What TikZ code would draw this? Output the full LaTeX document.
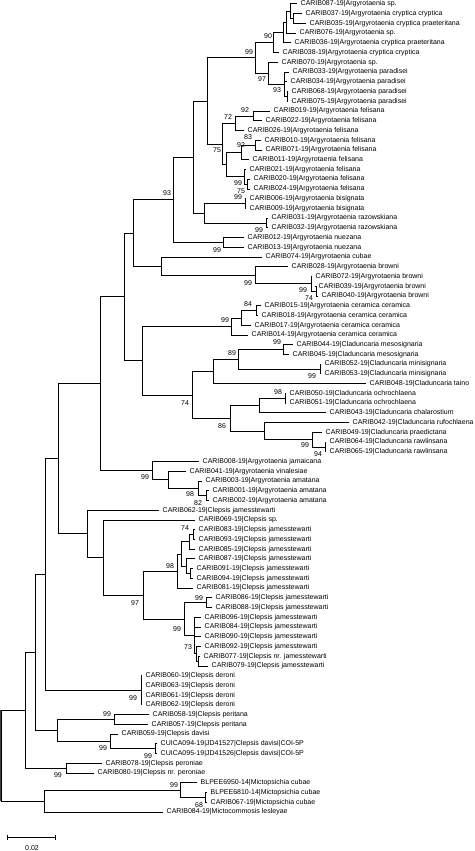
\documentclass[tikz,border=0pt]{standalone}
\usepackage{fontspec}
\setmainfont{Liberation Sans}

\tikzset{
  br/.style={line width=1pt},
  rt/.style={line width=1.6pt, black!75},
  lf/.style={anchor=west, inner sep=0pt, inner xsep=3.5pt, font=\fontsize{7}{8}\selectfont},
  bs/.style={inner sep=0pt, font=\fontsize{7}{8}\selectfont},
}

\begin{document}
\begin{tikzpicture}[x=1pt,y=1pt,yscale=-1]
\useasboundingbox (0,0) rectangle (474,851);

% Leaves
\node[lf] (l1) at (297,4.0) {CARIB087-19|Argyrotaenia sp.};
\node[lf] (l2) at (302,13.7) {CARIB037-19|Argyrotaenia cryptica cryptica};
\node[lf] (l3) at (306,23.5) {CARIB035-19|Argyrotaenia cryptica praeteritana};
\node[lf] (l4) at (296,33.2) {CARIB076-19|Argyrotaenia sp.};
\node[lf] (l5) at (291,42.9) {CARIB036-19|Argyrotaenia cryptica praeteritana};
\node[lf] (l6) at (279,52.7) {CARIB038-19|Argyrotaenia cryptica cryptica};
\node[lf] (l7) at (278,62.4) {CARIB070-19|Argyrotaenia sp.};
\node[lf] (l8) at (289,72.1) {CARIB033-19|Argyrotaenia paradisei};
\node[lf] (l9) at (287,81.9) {CARIB034-19|Argyrotaenia paradisei};
\node[lf] (l10) at (288,91.6) {CARIB068-19|Argyrotaenia paradisei};
\node[lf] (l11) at (288,101.4) {CARIB075-19|Argyrotaenia paradisei};
\node[lf] (l12) at (270,111.1) {CARIB019-19|Argyrotaenia felisana};
\node[lf] (l13) at (262,120.8) {CARIB022-19|Argyrotaenia felisana};
\node[lf] (l14) at (244,130.6) {CARIB026-19|Argyrotaenia felisana};
\node[lf] (l15) at (261,140.3) {CARIB010-19|Argyrotaenia felisana};
\node[lf] (l16) at (262,150.0) {CARIB071-19|Argyrotaenia felisana};
\node[lf] (l17) at (249,159.8) {CARIB011-19|Argyrotaenia felisana};
\node[lf] (l18) at (246,169.5) {CARIB021-19|Argyrotaenia felisana};
\node[lf] (l19) at (250,179.2) {CARIB020-19|Argyrotaenia felisana};
\node[lf] (l20) at (250,189.0) {CARIB024-19|Argyrotaenia felisana};
\node[lf] (l21) at (246,198.7) {CARIB006-19|Argyrotaenia bisignata};
\node[lf] (l22) at (246,208.4) {CARIB009-19|Argyrotaenia bisignata};
\node[lf] (l23) at (268,218.2) {CARIB031-19|Argyrotaenia razowskiana};
\node[lf] (l24) at (268,227.9) {CARIB032-19|Argyrotaenia razowskiana};
\node[lf] (l25) at (244,237.6) {CARIB012-19|Argyrotaenia nuezana};
\node[lf] (l26) at (244,247.4) {CARIB013-19|Argyrotaenia nuezana};
\node[lf] (l27) at (262,257.1) {CARIB074-19|Argyrotaenia cubae};
\node[lf] (l28) at (288,266.8) {CARIB028-19|Argyrotaenia browni};
\node[lf] (l29) at (312,276.6) {CARIB072-19|Argyrotaenia browni};
\node[lf] (l30) at (315,286.3) {CARIB039-19|Argyrotaenia browni};
\node[lf] (l31) at (318,296.1) {CARIB040-19|Argyrotaenia browni};
\node[lf] (l32) at (261,305.8) {CARIB015-19|Argyrotaenia ceramica ceramica};
\node[lf] (l33) at (258,315.5) {CARIB018-19|Argyrotaenia ceramica ceramica};
\node[lf] (l34) at (251,325.3) {CARIB017-19|Argyrotaenia ceramica ceramica};
\node[lf] (l35) at (248,335.0) {CARIB014-19|Argyrotaenia ceramica ceramica};
\node[lf] (l36) at (293,344.7) {CARIB044-19|Claduncaria mesosignaria};
\node[lf] (l37) at (289,354.5) {CARIB045-19|Claduncaria mesosignaria};
\node[lf] (l38) at (321,364.2) {CARIB052-19|Claduncaria minisignaria};
\node[lf] (l39) at (321,373.9) {CARIB053-19|Claduncaria minisignaria};
\node[lf] (l40) at (366,383.7) {CARIB048-19|Claduncaria taino};
\node[lf] (l41) at (286,393.4) {CARIB050-19|Claduncaria ochrochlaena};
\node[lf] (l42) at (286,403.1) {CARIB051-19|Claduncaria ochrochlaena};
\node[lf] (l43) at (326,412.9) {CARIB043-19|Claduncaria chalarostium};
\node[lf] (l44) at (349,422.6) {CARIB042-19|Claduncaria rufochlaena};
\node[lf] (l45) at (322,432.3) {CARIB049-19|Claduncaria praedictana};
\node[lf] (l46) at (326,442.1) {CARIB064-19|Claduncaria rawlinsana};
\node[lf] (l47) at (326,451.8) {CARIB065-19|Claduncaria rawlinsana};
\node[lf] (l48) at (199,461.6) {CARIB008-19|Argyrotaenia jamaicana};
\node[lf] (l49) at (186,471.3) {CARIB041-19|Argyrotaenia vinalesiae};
\node[lf] (l50) at (202,481.0) {CARIB003-19|Argyrotaenia amatana};
\node[lf] (l51) at (209,490.8) {CARIB001-19|Argyrotaenia amatana};
\node[lf] (l52) at (209,500.5) {CARIB002-19|Argyrotaenia amatana};
\node[lf] (l53) at (159,510.2) {CARIB062-19|Clepsis jamesstewarti};
\node[lf] (l54) at (195,520.0) {CARIB069-19|Clepsis sp.};
\node[lf] (l55) at (195,529.7) {CARIB083-19|Clepsis jamesstewarti};
\node[lf] (l56) at (195,539.4) {CARIB093-19|Clepsis jamesstewarti};
\node[lf] (l57) at (195,549.2) {CARIB085-19|Clepsis jamesstewarti};
\node[lf] (l58) at (195,558.9) {CARIB087-19|Clepsis jamesstewarti};
\node[lf] (l59) at (193,568.6) {CARIB091-19|Clepsis jamesstewarti};
\node[lf] (l60) at (193,578.4) {CARIB094-19|Clepsis jamesstewarti};
\node[lf] (l61) at (193,588.1) {CARIB081-19|Clepsis jamesstewarti};
\node[lf] (l62) at (212,597.8) {CARIB086-19|Clepsis jamesstewarti};
\node[lf] (l63) at (212,607.6) {CARIB088-19|Clepsis jamesstewarti};
\node[lf] (l64) at (201,617.3) {CARIB096-19|Clepsis jamesstewarti};
\node[lf] (l65) at (201,627.0) {CARIB084-19|Clepsis jamesstewarti};
\node[lf] (l66) at (201,636.8) {CARIB090-19|Clepsis jamesstewarti};
\node[lf] (l67) at (201,646.5) {CARIB092-19|Clepsis jamesstewarti};
\node[lf] (l68) at (200,656.2) {CARIB077-19|Clepsis nr. jamesstewarti};
\node[lf] (l69) at (208,666.0) {CARIB079-19|Clepsis jamesstewarti};
\node[lf] (l70) at (142,675.7) {CARIB060-19|Clepsis deroni};
\node[lf] (l71) at (142,685.4) {CARIB063-19|Clepsis deroni};
\node[lf] (l72) at (142,695.2) {CARIB061-19|Clepsis deroni};
\node[lf] (l73) at (142,704.9) {CARIB062-19|Clepsis deroni};
\node[lf] (l74) at (149,714.7) {CARIB058-19|Clepsis peritana};
\node[lf] (l75) at (148,724.4) {CARIB057-19|Clepsis peritana};
\node[lf] (l76) at (118,734.1) {CARIB059-19|Clepsis davisi};
\node[lf] (l77) at (157,743.9) {CUICA094-19|JD41527|Clepsis davisi|COI-5P};
\node[lf] (l78) at (157,753.6) {CUICA095-19|JD41526|Clepsis davisi|COI-5P};
\node[lf] (l79) at (102,763.3) {CARIB078-19|Clepsis peroniae};
\node[lf] (l80) at (94,773.1) {CARIB080-19|Clepsis nr. peroniae};
\node[lf] (l81) at (197,782.8) {BLPEE6950-14|Mictopsichia cubae};
\node[lf] (l82) at (207,792.5) {BLPEE6810-14|Mictopsichia cubae};
\node[lf] (l83) at (207,802.3) {CARIB067-19|Mictopsichia cubae};
\node[lf] (l84) at (163,812.0) {CARIB084-19|Mictocommosis lesleyae};

% Internal nodes
\coordinate (n293) at (293,18.6);
\coordinate (n290) at (290,11.3);
\coordinate (na) at (286,22.3);
\coordinate (n283) at (283,32.6);
\coordinate (n273) at (273,42.6);
\coordinate (n287) at (287,96.5);
\coordinate (par2) at (284,84.3);
\coordinate (par) at (268,73.4);
\coordinate (n254) at (255,58.0);
\coordinate (n253) at (253,116.0);
\coordinate (n235) at (235,123.3);
\coordinate (n83) at (255,145.2);
\coordinate (n92) at (241,152.5);
\coordinate (nf4) at (247,184.1);
\coordinate (nf3) at (244,176.8);
\coordinate (n227) at (226,164.7);
\coordinate (n222) at (222,144.0);
\coordinate (p205) at (207,101.0);
\coordinate (bis) at (245,203.6);
\coordinate (raz) at (266,223.1);
\coordinate (br1) at (204,213.3);
\coordinate (u194) at (193,157.2);
\coordinate (nue) at (223,242.5);
\coordinate (g93) at (173,199.9);
\coordinate (br3) at (316,291.2);
\coordinate (br2) at (311,283.9);
\coordinate (brw) at (255,275.4);
\coordinate (cb) at (161,266.2);
\coordinate (e133) at (133,233.0);
\coordinate (cer3) at (256,310.7);
\coordinate (cer2) at (241,318.0);
\coordinate (cer) at (231,326.5);
\coordinate (mes) at (283,349.6);
\coordinate (min) at (320,369.1);
\coordinate (mm) at (238,359.3);
\coordinate (cl1) at (213,371.5);
\coordinate (och) at (285,398.3);
\coordinate (oc) at (259,405.6);
\coordinate (raw) at (325,447.0);
\coordinate (pr) at (312,439.6);
\coordinate (rr) at (264,431.1);
\coordinate (cl2) at (230,418.4);
\coordinate (cl) at (192,395.0);
\coordinate (f142) at (142,360.7);
\coordinate (d124) at (124,296.9);
\coordinate (am2) at (206,495.7);
\coordinate (am) at (198,488.3);
\coordinate (v168) at (168,479.8);
\coordinate (jam) at (152,470.7);
\coordinate (c100) at (100,383.8);
\coordinate (e1) at (193,534.6);
\coordinate (b1) at (189,541.9);
\coordinate (f1) at (190,573.5);
\coordinate (d1) at (186,566.2);
\coordinate (c1) at (181,554.0);
\coordinate (a98) at (177,571.0);
\coordinate (g206) at (206,602.7);
\coordinate (i198) at (198,661.1);
\coordinate (h2) at (196,653.8);
\coordinate (h) at (194,635.6);
\coordinate (n184) at (184,619.2);
\coordinate (l143) at (143,595.1);
\coordinate (k103) at (103,557.6);
\coordinate (j87) at (87,533.9);
\coordinate (b58) at (58,458.9);
\coordinate (der) at (141,690.3);
\coordinate (a45) at (45,574.6);
\coordinate (per) at (114,719.5);
\coordinate (cu) at (155,748.8);
\coordinate (dav) at (110,741.4);
\coordinate (pd) at (57,730.5);
\coordinate (a35) at (35,652.5);
\coordinate (pe) at (66,768.2);
\coordinate (a25) at (25,710.4);
\coordinate (m2) at (205,797.4);
\coordinate (mic) at (180,790.1);
\coordinate (o44) at (44,801.0);
\coordinate (root) at (1,755.7);

% Branches
\foreach \ch in {l2,l3} \draw[br] (n293) |- (\ch);
\foreach \ch in {l1,n293} \draw[br] (n290) |- (\ch);
\foreach \ch in {n290,l4} \draw[br] (na) |- (\ch);
\foreach \ch in {na,l5} \draw[br] (n283) |- (\ch);
\foreach \ch in {n283,l6} \draw[br] (n273) |- (\ch);
\foreach \ch in {l10,l11} \draw[br] (n287) |- (\ch);
\foreach \ch in {l8,l9,n287} \draw[br] (par2) |- (\ch);
\foreach \ch in {l7,par2} \draw[br] (par) |- (\ch);
\foreach \ch in {n273,par} \draw[br] (n254) |- (\ch);
\foreach \ch in {l12,l13} \draw[br] (n253) |- (\ch);
\foreach \ch in {n253,l14} \draw[br] (n235) |- (\ch);
\foreach \ch in {l15,l16} \draw[br] (n83) |- (\ch);
\foreach \ch in {n83,l17} \draw[br] (n92) |- (\ch);
\foreach \ch in {l19,l20} \draw[br] (nf4) |- (\ch);
\foreach \ch in {l18,nf4} \draw[br] (nf3) |- (\ch);
\foreach \ch in {n92,nf3} \draw[br] (n227) |- (\ch);
\foreach \ch in {n235,n227} \draw[br] (n222) |- (\ch);
\foreach \ch in {n254,n222} \draw[br] (p205) |- (\ch);
\foreach \ch in {l21,l22} \draw[br] (bis) |- (\ch);
\foreach \ch in {l23,l24} \draw[br] (raz) |- (\ch);
\foreach \ch in {bis,raz} \draw[br] (br1) |- (\ch);
\foreach \ch in {p205,br1} \draw[br] (u194) |- (\ch);
\foreach \ch in {l25,l26} \draw[br] (nue) |- (\ch);
\foreach \ch in {u194,nue} \draw[br] (g93) |- (\ch);
\foreach \ch in {l30,l31} \draw[br] (br3) |- (\ch);
\foreach \ch in {l29,br3} \draw[br] (br2) |- (\ch);
\foreach \ch in {l28,br2} \draw[br] (brw) |- (\ch);
\foreach \ch in {l27,brw} \draw[br] (cb) |- (\ch);
\foreach \ch in {g93,cb} \draw[br] (e133) |- (\ch);
\foreach \ch in {l32,l33} \draw[br] (cer3) |- (\ch);
\foreach \ch in {cer3,l34} \draw[br] (cer2) |- (\ch);
\foreach \ch in {cer2,l35} \draw[br] (cer) |- (\ch);
\foreach \ch in {l36,l37} \draw[br] (mes) |- (\ch);
\foreach \ch in {l38,l39} \draw[br] (min) |- (\ch);
\foreach \ch in {mes,min} \draw[br] (mm) |- (\ch);
\foreach \ch in {mm,l40} \draw[br] (cl1) |- (\ch);
\foreach \ch in {l41,l42} \draw[br] (och) |- (\ch);
\foreach \ch in {och,l43} \draw[br] (oc) |- (\ch);
\foreach \ch in {l46,l47} \draw[br] (raw) |- (\ch);
\foreach \ch in {l45,raw} \draw[br] (pr) |- (\ch);
\foreach \ch in {l44,pr} \draw[br] (rr) |- (\ch);
\foreach \ch in {oc,rr} \draw[br] (cl2) |- (\ch);
\foreach \ch in {cl1,cl2} \draw[br] (cl) |- (\ch);
\foreach \ch in {cer,cl} \draw[br] (f142) |- (\ch);
\foreach \ch in {e133,f142} \draw[br] (d124) |- (\ch);
\foreach \ch in {l51,l52} \draw[br] (am2) |- (\ch);
\foreach \ch in {l50,am2} \draw[br] (am) |- (\ch);
\foreach \ch in {l49,am} \draw[br] (v168) |- (\ch);
\foreach \ch in {l48,v168} \draw[br] (jam) |- (\ch);
\foreach \ch in {d124,jam} \draw[br] (c100) |- (\ch);
\foreach \ch in {l55,l56} \draw[br] (e1) |- (\ch);
\foreach \ch in {e1,l57} \draw[br] (b1) |- (\ch);
\foreach \ch in {l59,l60} \draw[br] (f1) |- (\ch);
\foreach \ch in {l58,f1} \draw[br] (d1) |- (\ch);
\foreach \ch in {b1,d1} \draw[br] (c1) |- (\ch);
\foreach \ch in {c1,l61} \draw[br] (a98) |- (\ch);
\foreach \ch in {l62,l63} \draw[br] (g206) |- (\ch);
\foreach \ch in {l68,l69} \draw[br] (i198) |- (\ch);
\foreach \ch in {l67,i198} \draw[br] (h2) |- (\ch);
\foreach \ch in {l64,l65,l66,h2} \draw[br] (h) |- (\ch);
\foreach \ch in {g206,h} \draw[br] (n184) |- (\ch);
\foreach \ch in {a98,n184} \draw[br] (l143) |- (\ch);
\foreach \ch in {l54,l143} \draw[br] (k103) |- (\ch);
\foreach \ch in {l53,k103} \draw[br] (j87) |- (\ch);
\foreach \ch in {c100,j87} \draw[br] (b58) |- (\ch);
\foreach \ch in {l70,l71,l72,l73} \draw[br] (der) |- (\ch);
\foreach \ch in {b58,der} \draw[br] (a45) |- (\ch);
\foreach \ch in {l74,l75} \draw[br] (per) |- (\ch);
\foreach \ch in {l77,l78} \draw[br] (cu) |- (\ch);
\foreach \ch in {l76,cu} \draw[br] (dav) |- (\ch);
\foreach \ch in {per,dav} \draw[br] (pd) |- (\ch);
\foreach \ch in {a45,pd} \draw[br] (a35) |- (\ch);
\foreach \ch in {l79,l80} \draw[br] (pe) |- (\ch);
\foreach \ch in {a35,pe} \draw[br] (a25) |- (\ch);
\foreach \ch in {l82,l83} \draw[br] (m2) |- (\ch);
\foreach \ch in {l81,m2} \draw[br] (mic) |- (\ch);
\foreach \ch in {mic,l84} \draw[br] (o44) |- (\ch);
\draw[rt] (root |- a25) -- (root |- o44);
\foreach \ch in {a25,o44} \draw[br] (root) |- (\ch);

% Bootstrap values
\node[bs] (s1) at (249,52) {99};
\node[bs] (s2) at (268,36) {90};
\node[bs] (s3) at (262,79) {97};
\node[bs] (s4) at (277,90) {93};
\node[bs] (s5) at (245,110) {92};
\node[bs] (s6) at (228,117) {72};
\node[bs] (s7) at (248,137) {83};
\node[bs] (s8) at (241,145) {92};
\node[bs] (s9) at (217,150) {75};
\node[bs] (s10) at (238,183) {99};
\node[bs] (s11) at (241,191) {75};
\node[bs] (s12) at (167,193) {93};
\node[bs] (s13) at (238,197) {99};
\node[bs] (s14) at (259,230) {99};
\node[bs] (s15) at (217,250) {99};
\node[bs] (s16) at (248,283) {99};
\node[bs] (s17) at (303,290) {99};
\node[bs] (s18) at (309,298) {74};
\node[bs] (s19) at (248,304) {84};
\node[bs] (s20) at (225,320) {99};
\node[bs] (s21) at (277,342) {99};
\node[bs] (s22) at (232,353) {89};
\node[bs] (s23) at (312,376) {99};
\node[bs] (s24) at (278,392) {98};
\node[bs] (s25) at (185,403) {74};
\node[bs] (s26) at (222,426) {86};
\node[bs] (s27) at (305,445) {99};
\node[bs] (s28) at (318,454) {94};
\node[bs] (s29) at (145,477) {99};
\node[bs] (s30) at (190,494) {98};
\node[bs] (s31) at (198,503) {82};
\node[bs] (s32) at (185,528) {74};
\node[bs] (s33) at (170,566) {98};
\node[bs] (s34) at (135,603) {97};
\node[bs] (s35) at (199,598) {99};
\node[bs] (s36) at (177,629) {99};
\node[bs] (s37) at (188,647) {73};
\node[bs] (s38) at (133,698) {99};
\node[bs] (s39) at (107,714) {99};
\node[bs] (s40) at (103,748) {99};
\node[bs] (s41) at (148,756) {99};
\node[bs] (s42) at (58,775) {99};
\node[bs] (s43) at (174,785) {99};
\node[bs] (s44) at (199,805) {68};

% Scale bar
\coordinate (sb1) at (7,837);
\coordinate (sb2) at (55,837);
\draw[br] (sb1) -- (sb2);
\draw[br] ([yshift=-2.5pt]sb1) -- ([yshift=2.5pt]sb1);
\draw[br] ([yshift=-2.5pt]sb2) -- ([yshift=2.5pt]sb2);
\node[bs] (sbl) at (32,848) {0.02};

\end{tikzpicture}
\end{document}
